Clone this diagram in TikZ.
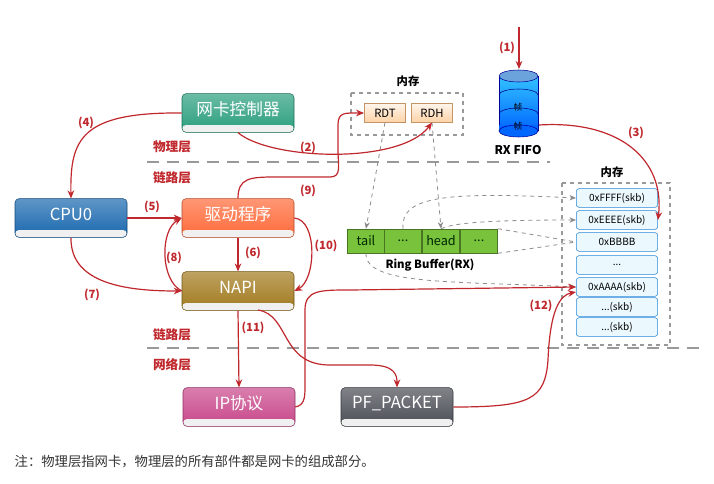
\documentclass[tikz,border=0pt]{standalone}
\usepackage{fontspec}
\setmainfont{Noto Sans CJK SC}
\usetikzlibrary{arrows.meta,shapes.geometric}
\definecolor{rd}{HTML}{C0282D}
\definecolor{gd}{HTML}{8C8C8C}
\definecolor{cgreen}{HTML}{2A9E7E}
\definecolor{cblue}{HTML}{1A68AE}
\definecolor{corange}{HTML}{FF6A3A}
\definecolor{cnapi}{HTML}{A27A1E}
\definecolor{cip}{HTML}{C8478A}
\definecolor{cpf}{HTML}{4A4D55}
\definecolor{cring}{HTML}{78C23C}
\begin{document}
\begin{tikzpicture}[x=0.75pt,y=-0.75pt,
 blk/.style={draw=#1!70!black,rounded corners=3pt,top color=#1!70!white,bottom color=#1,minimum width=84pt,minimum height=29pt,inner sep=0pt,
   path picture={\fill[gray!12] ([yshift=5.5pt]path picture bounding box.south west) rectangle (path picture bounding box.south east);}},
 btxt/.style={text=white,font=\fontsize{12.5}{14}\selectfont},
 lay/.style={text=rd,font=\bfseries\fontsize{9.5}{11}\selectfont},
 num/.style={text=rd,font=\bfseries\fontsize{8.5}{10}\selectfont},
 ra/.style={draw=rd,line width=0.9pt,-{Stealth[length=6pt,width=5pt]}},
 ga/.style={draw=gd,dashed,line width=0.6pt,-{Stealth[length=5pt,width=4pt]}},
 gl/.style={draw=gd,dashed,line width=0.6pt},
 sep/.style={draw=gray!80,line width=2pt,dash pattern=on 9pt off 6pt},
 mem/.style={draw=gray!80,dashed,line width=0.8pt},
 ent/.style={draw=blue!45!cyan!70!gray,fill=cyan!8,rounded corners=2pt,minimum width=61pt,minimum height=14pt,inner sep=0pt,font=\fontsize{7.5}{8}\selectfont},
 cell/.style={draw=cring!60!black,fill=cring,minimum width=28pt,minimum height=18pt,inner sep=0pt,font=\fontsize{9.5}{10}\selectfont,text=green!15!black},
 reg/.style={draw=orange!60!black!60,top color=orange!8,bottom color=orange!35,minimum width=31pt,minimum height=14pt,inner sep=0pt,font=\fontsize{8.5}{9}\selectfont}
]
\useasboundingbox (0,0) rectangle (714,483);
\fill[white] (0,0) rectangle (714,483);
% separators
\draw[sep] (147,162) -- (550,162);
\draw[sep] (147,348) -- (700,348);
\node[lay] (l1) at (172,147) {物理层};
\node[lay] (l2) at (172,178) {链路层};
\node[lay] (l3) at (172,335) {链路层};
\node[lay] (l4) at (172,365) {网络层};
% blocks
\node[blk=cgreen] (nic) at (238,113) {};
\node[btxt] (nict) at (238,109) {网卡控制器};
\node[blk=cblue] (cpu) at (71,218) {};
\node[btxt] (cput) at (71,214) {CPU0};
\node[blk=corange] (drv) at (238,218) {};
\node[btxt] (drvt) at (238,214) {驱动程序};
\node[blk=cnapi] (napi) at (238,291) {};
\node[btxt] (napit) at (238,287) {NAPI};
\node[blk=cip] (ip) at (239,407) {};
\node[btxt] (ipt) at (239,403) {IP协议};
\node[blk=cpf] (pf) at (397,407) {};
\node[btxt] (pft) at (397,403) {PF\_PACKET};
% memory 1
\draw[mem] (351,93) rectangle (463,135);
\node[font=\bfseries\fontsize{8.5}{10}\selectfont] (m1) at (408,81) {内存};
\node[reg] (rdt) at (385,113) {RDT};
\node[reg] (rdh) at (432,113) {RDH};
% FIFO
\begin{scope}
\shade[top color=cyan!70!blue!80,bottom color=blue!60!cyan] (499,76) rectangle (538,131);
\draw[blue!60!black] (499,76) -- (499,131) (538,76) -- (538,131);
\draw[blue!60!black,fill=blue!60!cyan] (518.5,131) ellipse (19.5 and 6);
\fill[blue!60!cyan] (499,125) rectangle (538,131);
\draw[blue!60!black] (499,131) arc (180:360:19.5 and 6);
\draw[blue!60!black,fill=cyan!60!blue!60] (518.5,76) ellipse (19.5 and 6);
\draw[blue!50!black] (499,95) arc (180:360:19.5 and 6);
\draw[blue!50!black] (499,114) arc (180:360:19.5 and 6);
\end{scope}
\node[font=\fontsize{6.5}{7}\selectfont] (f1) at (518,107) {帧};
\node[font=\fontsize{6.5}{7}\selectfont] (f2) at (518,126) {帧};
\coordinate (fifotop) at (519,69);
\coordinate (fiforight) at (539,125);
\node[font=\bfseries\fontsize{9}{10}\selectfont] (fl) at (518,150) {RX FIFO};
\coordinate (in1) at (519,27);
% memory 2
\draw[mem] (562,183) rectangle (670,345);
\node[font=\bfseries\fontsize{8.5}{10}\selectfont] (m2) at (612,172) {内存};
\node[ent] (e1) at (617,198) {0xFFFF(skb)};
\node[ent] (e2) at (617,220) {0xEEEE(skb)};
\node[ent] (e3) at (617,242) {0xBBBB};
\node[ent] (e4) at (617,265) {...};
\node[ent] (e5) at (617,287) {0xAAAA(skb)};
\node[ent] (e6) at (617,307) {...(skb)};
\node[ent] (e7) at (617,327) {...(skb)};
% ring
\node[cell] (c1) at (366,241) {tail};
\node[cell] (c2) at (403,241) {...};
\node[cell] (c3) at (441,241) {head};
\node[cell] (c4) at (479,241) {...};
\node[font=\bfseries\fontsize{8.5}{10}\selectfont] (rb) at (430,265) {Ring Buffer(RX)};
% gray dashed
\draw[ga] (rdt.south) -- (c1.north);
\draw[ga] (rdh.south) -- (c3.north);
\draw[ga] (c2.north) .. controls (400,195) and (450,192) .. (e1.west);
\draw[ga] (c3.north) .. controls (455,222) and (500,220) .. (e2.west);
\draw[gl] (c4.north east) -- (e3.west);
\draw[gl] (c4.south east) -- (e3.west);
\draw[ga] (c1.south) .. controls (365,285) and (450,281) .. (e5.west);
% red arrows
\draw[ra] (in1) -- (fifotop);
\node[num] (n1) at (507,48) {(1)};
\draw[ra] (nic.south) .. controls (270,160) and (400,165) .. (rdh.south);
\node[num] (n2) at (308,148) {(2)};
\draw[ra] (fiforight) .. controls (620,120) and (665,160) .. (e2.east);
\node[num] (n3) at (636,133) {(3)};
\draw[ra] (nic.west) .. controls (80,112) and (70,140) .. (cpu.north);
\node[num] (n4) at (86,123) {(4)};
\draw[ra] (cpu.east) -- (drv.west);
\node[num] (n5) at (152,207) {(5)};
\draw[ra] (drv.south) -- (napi.north);
\node[num] (n6) at (253,253) {(6)};
\draw[ra] (cpu.south) .. controls (70,285) and (130,291) .. (napi.west);
\node[num] (n7) at (92,295) {(7)};
\draw[ra] (napi.west) .. controls (160,280) and (160,230) .. (drv.west);
\node[num] (n8) at (174,258) {(8)};
\draw[ra] (drv.north) .. controls (238,178) and (250,177) .. (275,177) -- (330,177) .. controls (342,177) and (338,165) .. (338,150) -- (338,125) .. controls (338,112) and (345,113) .. (rdt.west);
\node[num] (n9) at (308,191) {(9)};
\draw[ra] (drv.east) .. controls (318,220) and (316,280) .. (napi.east);
\node[num] (n10) at (326,246) {(10)};
\draw[ra] (napi.south) -- (ip.north);
\node[num] (n11) at (253,328) {(11)};
\draw[ra] (258,310) .. controls (290,315) and (280,365) .. (330,365) -- (370,365) .. controls (395,365) and (397,375) .. (pf.north);
\draw[ra] (ip.east) .. controls (306,405) and (305,395) .. (305,380) -- (305,310) .. controls (305,290) and (320,290) .. (350,290) -- (e5.west);
\draw[ra] (pf.east) .. controls (530,407) and (545,400) .. (548,360) .. controls (550,310) and (560,295) .. (576,292);
\node[num] (n12) at (541,306) {(12)};
\node[anchor=west,font=\fontsize{10}{12}\selectfont,text=black!80] (note) at (10,462) {注：物理层指网卡，物理层的所有部件都是网卡的组成部分。};
\end{tikzpicture}
\end{document}
